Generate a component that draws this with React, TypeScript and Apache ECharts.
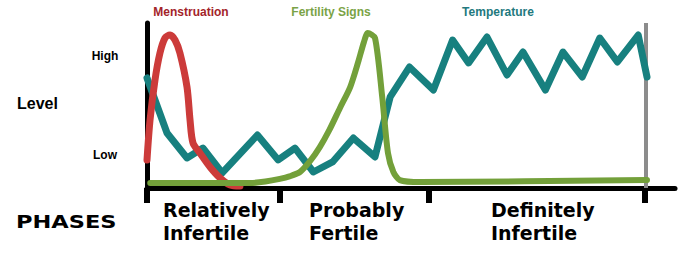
import React, { useEffect, useRef } from "react";
import * as echarts from "echarts";

// Cycle position (x, arbitrary day units 0..33) and level (0..100)
const temperatureX = [0, 1.25, 2.5, 3.5, 4.7, 6.9, 8.2, 9.25, 10.4, 11.6, 12.9, 14.25, 15.2, 16.4, 17.9, 19.1, 20.1, 21.25, 22.5, 23.5, 24.9, 26.0, 27.2, 28.3, 29.4, 30.7, 31.25];
const temperatureY = [66.7, 33.3, 18.2, 24.2, 9.1, 32.1, 17.0, 24.2, 9.7, 15.8, 30.3, 18.8, 55.2, 73.3, 59.4, 89.7, 75.8, 91.5, 68.5, 82.4, 59.4, 82.4, 67.3, 90.9, 76.4, 92.7, 67.3];

const menstruationX = [0, 0.19, 0.5, 0.81, 1.125, 1.44, 1.75, 2.06, 2.5, 2.69, 2.875, 3.31, 3.94, 4.56, 5.19, 5.81];
const menstruationY = [17.0, 41.2, 65.5, 81.8, 90.9, 92.7, 89.7, 81.8, 61.2, 41.2, 27.3, 21.2, 12.7, 6.1, 1.8, 1.2];

const fertilityX = [0.2, 6.44, 7.4, 8.3, 8.9, 9.56, 10.2, 10.8, 11.4, 12.06, 12.7, 13.2, 13.56, 13.8, 14.25, 14.7, 15.06, 15.4, 15.8, 17.1, 31.25];
const fertilityY = [3.0, 3.0, 3.9, 5.5, 7.0, 9.7, 16.4, 24.8, 35.2, 48.5, 61.2, 76.4, 88.5, 93.9, 90.9, 55.2, 21.2, 9.7, 4.8, 3.6, 4.8];

const seriesNames = ["Menstruation", "Fertility Signs", "Temperature"];
const seriesColors = ["#cc3b3a", "#73a03a", "#17807f"];
const headingColors = ["#a3242a", "#7aa346", "#23797e"];

const levelTickValues = [20, 80];
const levelTickLabels = ["Low", "High"];

const phaseBounds = [0, 8.3, 17.6, 31.1];
const phaseLabels = ["Relatively\nInfertile", "Probably\nFertile", "Definitely\nInfertile"];
const cycleEnd = 31.2;

const zip = (xs: number[], ys: number[]) => xs.map((x, i) => [x, ys[i]]);

export default function App() {
  const ref = useRef<HTMLDivElement>(null);
  useEffect(() => {
    if (!ref.current) return;
    const chart = echarts.init(ref.current, undefined, { renderer: "svg" });
    const font = "'Liberation Sans', Arial, sans-serif";
    const headingX = [191, 331, 498];
    const phaseX = [163, 309, 491];
    chart.setOption({
      animation: false,
      grid: { left: 147, right: 5, top: 23, bottom: 85, containLabel: false },
      xAxis: {
        type: "value",
        min: 0,
        max: 33,
        splitLine: { show: false },
        axisLine: { show: true, lineStyle: { color: "#000", width: 5 } },
        axisTick: {
          show: true,
          customValues: phaseBounds,
          length: 15,
          inside: false,
          lineStyle: { color: "#000", width: 6 },
        },
        axisLabel: { show: false },
      },
      yAxis: {
        type: "value",
        min: 0,
        max: 100,
        splitLine: { show: false },
        axisLine: { show: true, lineStyle: { color: "#000", width: 5 } },
        axisTick: { show: false },
        axisLabel: {
          show: true,
          customValues: levelTickValues,
          formatter: (v: number) => levelTickLabels[levelTickValues.indexOf(v)] ?? "",
          align: "center",
          margin: 42,
          fontFamily: font,
          fontWeight: "bold",
          fontSize: 12,
          color: "#000",
        },
      },
      series: [
        {
          name: seriesNames[2],
          type: "line",
          data: zip(temperatureX, temperatureY),
          showSymbol: false,
          lineStyle: { color: seriesColors[2], width: 7, join: "round", cap: "round" },
          z: 2,
          markLine: {
            silent: true,
            symbol: ["none", "none"],
            label: { show: false },
            lineStyle: { color: "#8c8c8c", width: 4, type: "solid" },
            data: [{ xAxis: cycleEnd }],
            z: 1,
          },
        },
        {
          name: seriesNames[0],
          type: "line",
          data: zip(menstruationX, menstruationY),
          smooth: 0.3,
          showSymbol: false,
          lineStyle: { color: seriesColors[0], width: 7, cap: "round" },
          z: 3,
        },
        {
          name: seriesNames[1],
          type: "line",
          data: zip(fertilityX, fertilityY),
          smooth: 0.25,
          showSymbol: false,
          lineStyle: { color: seriesColors[1], width: 6, cap: "round" },
          z: 4,
        },
      ],
      graphic: [
        ...seriesNames.map((n, i) => ({
          type: "text",
          x: headingX[i],
          y: 12,
          style: {
            text: n,
            fill: headingColors[i],
            font: `bold 12px ${font}`,
            align: "center",
            verticalAlign: "middle",
          },
        })),
        {
          type: "text",
          x: 17,
          y: 103,
          style: { text: "Level", fill: "#000", font: `bold 16px ${font}`, align: "left", verticalAlign: "middle" },
        },
        {
          type: "text",
          x: 16,
          y: 222,
          scaleX: 1.25,
          style: { text: "PHASES", fill: "#000", font: "bold 18px 'DejaVu Sans'", align: "left", verticalAlign: "middle" },
        },
        ...phaseLabels.map((t, i) => ({
          type: "text",
          x: phaseX[i],
          y: 198,
          style: {
            text: t,
            fill: "#000",
            font: "bold 19px 'DejaVu Sans'",
            lineHeight: 23,
            align: "left",
            verticalAlign: "top",
          },
        })),
      ],
    });
    return () => chart.dispose();
  }, []);
  return <div ref={ref} style={{ width: 680, height: 273, position: "absolute", left: 0, top: 0 }} />;
}
